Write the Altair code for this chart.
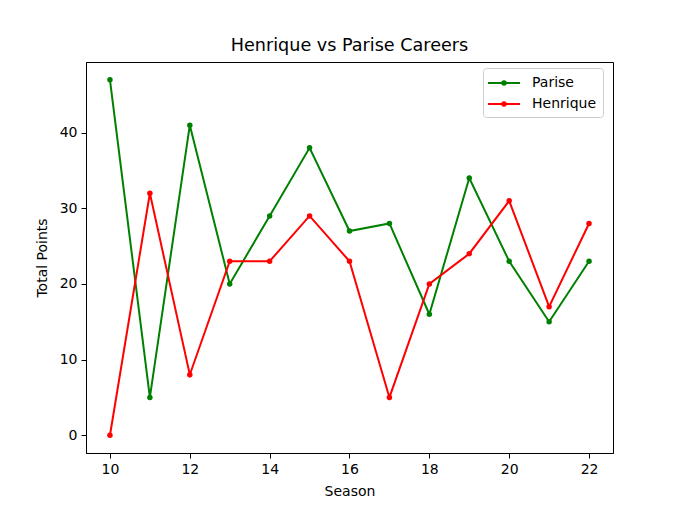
import altair as alt
import pandas as pd

seasons = [10, 11, 12, 13, 14, 15, 16, 17, 18, 19, 20, 21, 22]
parise = [47, 5, 41, 20, 29, 38, 27, 28, 16, 34, 23, 15, 23]
henrique = [0, 32, 8, 23, 23, 29, 23, 5, 20, 24, 31, 17, 28]
series_names = ["Parise", "Henrique"]
series_colors = ["green", "red"]
x_ticks = [10, 12, 14, 16, 18, 20, 22]
y_ticks = [0, 10, 20, 30, 40]

rows = []
for s, p, h in zip(seasons, parise, henrique):
    rows.append({"Season": s, "Points": p, "Player": "Parise"})
    rows.append({"Season": s, "Points": h, "Player": "Henrique"})
df = pd.DataFrame(rows)

x_enc = alt.X("Season:Q", scale=alt.Scale(domain=[9.4, 22.6], nice=False, zero=False),
              axis=alt.Axis(values=x_ticks, title="Season", grid=False, format="d",
                            titlePadding=8))
y_enc = alt.Y("Points:Q", scale=alt.Scale(domain=[-2.35, 49.35], nice=False, zero=False),
              axis=alt.Axis(values=y_ticks, title="Total Points", grid=False, format="d",
                            titlePadding=10))
color_scale = alt.Scale(domain=series_names, range=series_colors)

legend_symbol = "M-2,0L2,0M-0.22,0A0.22,0.22 0 1,1 0.22,0A0.22,0.22 0 1,1 -0.22,0Z"

lines = alt.Chart(df).mark_line(strokeWidth=2).encode(
    x=x_enc, y=y_enc,
    color=alt.Color("Player:N", scale=color_scale, sort=series_names,
                    legend=alt.Legend(title=None, orient="none", legendX=397, legendY=6,
                                      symbolType=legend_symbol, symbolSize=256,
                                      symbolOffset=6,
                                      symbolStrokeWidth=2, labelFontSize=14,
                                      labelOffset=19, padding=6, rowPadding=5,
                                      fillColor="white", strokeColor="#cccccc",
                                      cornerRadius=3, labelColor="black")),
    order="Season:Q",
)
points = alt.Chart(df).mark_circle(size=30, opacity=1).encode(
    x=x_enc, y=y_enc,
    color=alt.Color("Player:N", scale=color_scale, sort=series_names, legend=None),
)

chart = alt.layer(lines, points).properties(
    width=527, height=391,
    title=alt.Title("Henrique vs Parise Careers", fontSize=17.6, fontWeight="normal",
                    offset=7, color="black"),
    autosize=alt.AutoSizeParams(type="none"),
    padding={"left": 78, "top": 54, "right": 50, "bottom": 50},
).configure(font="DejaVu Sans").configure_view(
    stroke="black", strokeWidth=1
).configure_axis(
    domainColor="black", tickColor="black", tickSize=5, labelFontSize=14,
    labelColor="black", titleFontSize=14, titleFontWeight="normal", titleColor="black",
    labelPadding=4,
)

chart.save("out.html", embed_options={"renderer": "svg", "actions": False})
